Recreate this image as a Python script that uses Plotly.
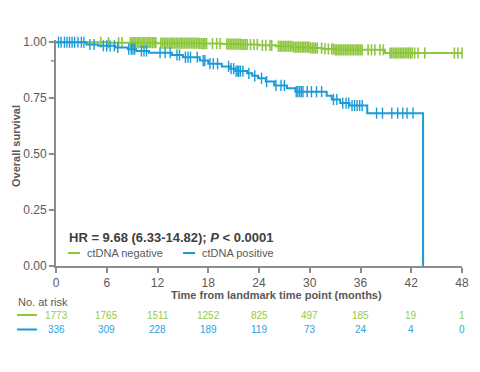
import numpy as np
import plotly.graph_objects as go

# ---------------- data ----------------
x_ticks = [0, 6, 12, 18, 24, 30, 36, 42, 48]
y_ticks = [0.0, 0.25, 0.5, 0.75, 1.0]

neg_event_t = [6.0, 12.0, 17.0, 19.6, 22.0, 24.0, 26.0, 28.0, 30.0, 31.5, 33.0, 38.9]
neg_event_s = [0.998, 0.996, 0.994, 0.992, 0.99, 0.986, 0.982, 0.978, 0.974, 0.97, 0.966, 0.952]
neg_end_t = 48.2

pos_event_t = [3.6, 5.0, 7.0, 8.5, 9.5, 11.0, 13.7, 15.0, 17.0, 18.0, 19.6, 20.6, 21.2, 22.6,
               23.2, 23.9, 24.8, 25.8, 27.3, 28.3, 32.0, 32.6, 33.6, 34.7, 36.8, 43.4]
pos_event_s = [0.99, 0.984, 0.977, 0.969, 0.961, 0.953, 0.943, 0.933, 0.918, 0.904, 0.892, 0.882,
               0.871, 0.861, 0.850, 0.839, 0.824, 0.807, 0.794, 0.779, 0.761, 0.744, 0.728, 0.717,
               0.683, 0.0]

neg_censor = [5.3, 6.2, 7.4, 7.8,
              8.8, 9.0, 9.2, 9.4, 9.6, 9.8, 10.0, 10.2, 10.4, 10.6, 10.8, 11.0, 11.2, 11.4, 11.6, 11.8,
              12.4, 12.6, 12.8, 13.0, 13.2, 13.4, 13.6, 13.8, 14.0, 14.2, 14.4, 14.6, 14.8, 15.0,
              15.2, 15.4, 15.6, 15.8, 16.0, 16.2, 16.4, 16.6, 16.8, 17.0, 17.2, 17.4, 17.6, 17.8,
              18.5, 19.0, 19.4,
              20.2, 20.4, 20.6, 20.8, 21.0, 21.2, 21.4, 21.6, 21.8, 22.0, 22.2, 22.4, 22.6,
              23.0, 23.4, 23.8, 24.4, 24.8, 25.3, 25.5,
              26.3, 26.5, 26.7, 26.9, 27.1, 27.3, 27.5, 27.7, 27.9, 28.1, 28.3, 28.5, 28.7, 28.9,
              29.1, 29.3, 29.5, 29.7, 29.9, 30.1, 30.3, 30.5, 30.7, 30.9,
              31.4, 31.8, 32.2,
              32.6, 32.8, 33.0, 33.2, 33.4, 33.6, 33.8, 34.0, 34.2, 34.4, 34.6, 34.8, 35.0, 35.2,
              35.4, 35.6, 35.8, 36.0, 36.2,
              36.9, 37.3, 37.7, 38.3, 38.7,
              39.5, 39.7, 39.9, 40.1, 40.3, 40.5, 40.7, 40.9, 41.1, 41.3, 41.5, 41.7, 41.9, 42.1,
              42.4, 42.8, 43.6, 47.1, 47.5, 48.0]

pos_censor = [0.3, 0.6, 1.0, 1.3, 1.6, 1.9, 2.2, 2.6, 3.0, 3.3, 4.0, 4.5, 5.6, 6.0, 6.4, 6.9, 7.3,
              8.6, 8.9, 9.1, 9.3, 10.1, 10.4, 10.7, 12.3, 12.9, 13.5, 14.3, 14.6, 15.3, 15.6, 15.9,
              16.7, 17.4, 17.6, 18.2, 18.6, 19.1, 20.4, 20.7, 21.0, 21.3, 21.5, 21.6, 21.8,
              22.1, 22.8, 23.5, 24.3, 24.9, 26.0, 26.6, 27.0, 28.4, 28.6, 28.8, 29.0, 29.2,
              29.7, 30.2, 30.8, 31.4, 32.8, 33.2, 33.9, 34.3, 34.6, 35.0, 35.3, 35.6, 35.9, 36.2,
              37.9, 38.6, 39.7, 40.4, 41.0, 41.5, 42.2]

risk_neg = [1773, 1765, 1511, 1252, 825, 497, 185, 19, 1]
risk_pos = [336, 309, 228, 189, 119, 73, 24, 4, 0]

hr_text = "<b>HR = 9.68 (6.33-14.82); <i>P</i> < 0.0001</b>"
labels = ["ctDNA negative", "ctDNA positive"]

GREEN = "#8DC63F"
BLUE = "#1A9BD7"
GREEN_TXT = "#97C94B"
BLUE_TXT = "#2AA3DD"
GREY = "#595959"
AXIS = "#8C8C8C"
FONT = "Liberation Sans, Arial, sans-serif"


def step_xy(t, s, end=None):
    xs = [0.0] + list(t)
    ys = [1.0] + list(s)
    if end is not None:
        xs.append(end)
        ys.append(ys[-1])
    return xs, ys


def censor_y(c, t, s):
    tt = np.array([0.0] + list(t))
    ss = np.array([1.0] + list(s))
    idx = np.searchsorted(tt, np.array(c), side="right") - 1
    return ss[idx]


fig = go.Figure()

nx, ny = step_xy(neg_event_t, neg_event_s, neg_end_t)
px_, py_ = step_xy(pos_event_t, pos_event_s)

fig.add_trace(go.Scatter(x=nx, y=ny, mode="lines", line=dict(color=GREEN, width=2, shape="hv"),
                         showlegend=False, cliponaxis=False))
fig.add_trace(go.Scatter(x=neg_censor, y=censor_y(neg_censor, neg_event_t, neg_event_s), mode="markers",
                         marker=dict(symbol="line-ns", size=8, line=dict(color=GREEN, width=1.6)),
                         showlegend=False, cliponaxis=False))
fig.add_trace(go.Scatter(x=px_, y=py_, mode="lines", line=dict(color=BLUE, width=2, shape="hv"),
                         showlegend=False, cliponaxis=False))
fig.add_trace(go.Scatter(x=pos_censor, y=censor_y(pos_censor, pos_event_t, pos_event_s), mode="markers",
                         marker=dict(symbol="line-ns", size=8, line=dict(color=BLUE, width=1.4)),
                         showlegend=False, cliponaxis=False))

W, H = 480, 372
L, R, T, B = 56, 18, 40, 106
pw, ph = W - L - R, H - T - B


def px2x(p):
    return (p - L) / pw


def py2y(p):
    return (H - B - p) / ph


ann = []
shapes = []
# axis titles
ann.append(dict(x=px2x(276), y=py2y(295), xref="paper", yref="paper", text="<b>Time from landmark time point (months)</b>",
                showarrow=False, font=dict(size=11, color=GREY, family=FONT), xanchor="center", yanchor="middle"))
ann.append(dict(x=px2x(16), y=py2y(146), xref="paper", yref="paper", text="<b>Overall survival</b>", textangle=-90,
                showarrow=False, font=dict(size=11, color=GREY, family=FONT), xanchor="center", yanchor="middle"))
# HR text
ann.append(dict(x=px2x(67), y=py2y(237.5), xref="paper", yref="paper", text=hr_text, showarrow=False,
                font=dict(size=13, color="#404040", family=FONT), xanchor="left", yanchor="middle"))
# legend
for lx0, lx1, tx, col, lab in [(68, 80, 85, GREEN, labels[0]), (183, 195, 200, BLUE, labels[1])]:
    shapes.append(dict(type="line", xref="paper", yref="paper", x0=px2x(lx0), x1=px2x(lx1),
                       y0=py2y(253), y1=py2y(253), line=dict(color=col, width=2)))
    ann.append(dict(x=px2x(tx), y=py2y(252.5), xref="paper", yref="paper", text=lab, showarrow=False,
                    font=dict(size=11, color=GREY, family=FONT), xanchor="left", yanchor="middle"))
# at risk table
ann.append(dict(x=px2x(16), y=py2y(302), xref="paper", yref="paper", text="No. at risk", showarrow=False,
                font=dict(size=11, color=GREY, family=FONT), xanchor="left", yanchor="middle"))
for yy, col, tcol, vals in [(315, GREEN, GREEN_TXT, risk_neg), (329.5, BLUE, BLUE_TXT, risk_pos)]:
    shapes.append(dict(type="line", xref="paper", yref="paper", x0=px2x(17), x1=px2x(37),
                       y0=py2y(yy), y1=py2y(yy), line=dict(color=col, width=2)))
    for xv, v in zip(x_ticks, vals):
        ann.append(dict(x=xv, y=py2y(yy), xref="x", yref="paper", text=str(v), showarrow=False,
                        font=dict(size=10, color=tcol, family=FONT), xanchor="center", yanchor="middle"))
# stray tick on y axis
shapes.append(dict(type="line", xref="paper", yref="y", x0=px2x(51), x1=px2x(56), y0=0.917, y1=0.917,
                   line=dict(color=AXIS, width=1.5)))

fig.update_layout(
    width=W, height=H,
    margin=dict(l=L, r=R, t=T, b=B, pad=0),
    paper_bgcolor="white", plot_bgcolor="white",
    font=dict(family=FONT, size=12, color=GREY),
    annotations=ann, shapes=shapes,
    xaxis=dict(range=[0, 48], tickvals=x_ticks, ticktext=[str(v) for v in x_ticks], showgrid=False,
               zeroline=False, showline=True, linecolor=AXIS, linewidth=2, ticks="outside", ticklen=5,
               tickwidth=1.5, tickcolor=AXIS, tickfont=dict(size=12, color=GREY, family=FONT)),
    yaxis=dict(range=[0, 1.01], tickvals=y_ticks, ticktext=[f"{v:.2f}" for v in y_ticks], showgrid=False,
               zeroline=False, showline=True, linecolor=AXIS, linewidth=2, ticks="outside", ticklen=5,
               tickwidth=1.5, tickcolor=AXIS, tickfont=dict(size=12, color=GREY, family=FONT)),
)

fig.write_html("out.html")
